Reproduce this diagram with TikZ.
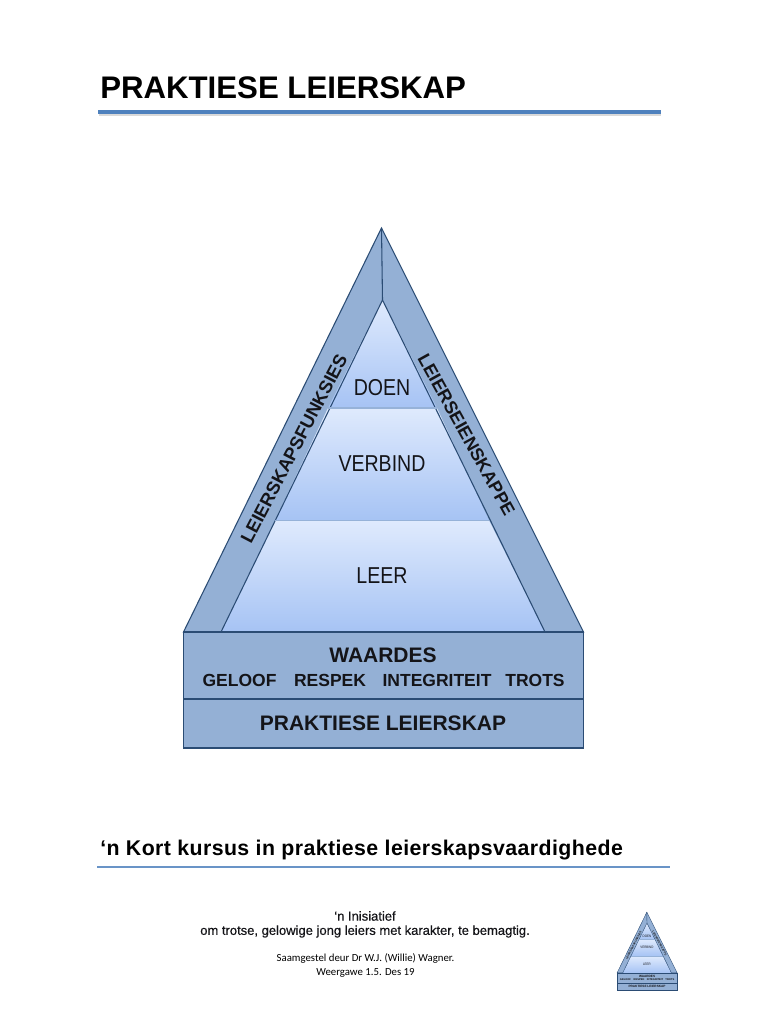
\documentclass[tikz,border=0pt]{standalone}
\usepackage{fontspec}
\setmainfont{Liberation Sans}
\newfontfamily\caliberfont{Carlito}
\definecolor{sideblue}{HTML}{94B0D5}
\definecolor{edgeblue}{HTML}{2B4C74}
\definecolor{bandtop}{HTML}{DFEAFD}
\definecolor{bandbot}{HTML}{A6C3F4}
\definecolor{rulebar}{HTML}{4F81BD}
\definecolor{inktext}{HTML}{141418}
\newcommand{\px}[1]{\fontsize{\dimexpr #1pt*3/4\relax}{\dimexpr #1pt*9/10\relax}\selectfont}
\tikzset{
  side/.style={fill=sideblue,draw=edgeblue,line width=#1},
  band/.style={top color=bandtop,bottom color=bandbot,draw=none},
  lbl/.style={inner sep=0pt,text=inktext,font=\px{#1}},
  lblb/.style={inner sep=0pt,text=inktext,font=\bfseries\px{#1}},
  lagen/.style={lbl=23,xscale=0.85}
}
% the pyramid, drawn at reference size, argument is the line width
\newcommand{\piramide}[1]{
\filldraw [side=#1] (381.5,228)--(583.5,632)--(183.5,632)--cycle;
\shade [band] (382.5,300)--(437,408)--(328,408)--cycle;
\shade [band] (328,408)--(437,408)--(489,520.5)--(275,520.5)--cycle;
\shade [band] (275,520.5)--(489,520.5)--(545,632)--(221,632)--cycle;
\draw [edgeblue,line width=#1] (221,632)--(382.5,300)--(545,632);
\draw [edgeblue,line width=#1] (381.5,228)--(382.5,300);
\draw [sideblue!90!bandbot,line width=#1] (328,408)--(437,408);
\draw [sideblue!90!bandbot,line width=#1] (275,520.5)--(489,520.5);
\filldraw [side=#1] (183.5,632) rectangle (583.5,699);
\filldraw [side=#1] (183.5,699) rectangle (583.5,748);
\node (doen) at (382,387.5) [lagen] {DOEN};
\node (verbind) at (382,464) [lagen] {VERBIND};
\node (leer) at (382,575.5) [lagen] {LEER};
\node (funksies) at (294,448.5) [lblb=18.3,rotate=62.5] {LEIERSKAPSFUNKSIES};
\node (eienskappe) at (466.5,435) [lblb=18,rotate=-61] {LEIERSEIENSKAPPE};
\node (waardes) at (383,655.5) [lblb=21] {WAARDES};
\node (geloof) at (239.5,680) [lblb=17.5] {GELOOF};
\node (respek) at (330,680) [lblb=17.5] {RESPEK};
\node (integriteit) at (437,680) [lblb=17.5] {INTEGRITEIT};
\node (trots) at (535,680) [lblb=17.5] {TROTS};
\node (basis) at (383,723) [lblb=21] {PRAKTIESE LEIERSKAP};
}
\begin{document}
\begin{tikzpicture}[x=0.75pt,y=-0.75pt]
\fill [white] (0,0) rectangle (768,1024);
\useasboundingbox (0,0) rectangle (768,1024);
\node (titel) at (100,88) [anchor=west,inner sep=0pt,font=\bfseries\px{31.2}] {PRAKTIESE LEIERSKAP};
\draw [black!15,line width=2pt] (99,114.5)--(661,114.5);
\draw [rulebar,line width=3pt] (98,111.7)--(661,111.7);
\piramide{0.8pt}
\node (kursus) at (100,850) [anchor=west,inner sep=0pt,font=\bfseries\px{21.3}\addfontfeature{LetterSpace=2}] {‘n Kort kursus in praktiese leierskapsvaardighede};
\draw [rulebar!85,line width=0.9pt] (97,867)--(670,867);
\node (inisiatief) at (365,916) [lbl=13,font=\px{13}\addfontfeature{FakeBold=0.4}] {‘n Inisiatief};
\node (doel) at (365,931.5) [lbl=13,font=\px{13}\addfontfeature{FakeBold=0.4}] {om trotse, gelowige jong leiers met karakter, te bemagtig.};
\node (deur) at (365.5,958) [inner sep=0pt,font=\caliberfont\px{10.8}] {Saamgestel deur Dr W.J. (Willie) Wagner.};
\node (weergawe) at (365.5,973) [inner sep=0pt,font=\caliberfont\px{10.8}] {Weergawe 1.5. Des 19};
\begin{scope}[shift={(589.6,878)},scale=0.15,transform shape,name prefix=mini-]
\piramide{0.3pt}
\end{scope}
\end{tikzpicture}
\end{document}
